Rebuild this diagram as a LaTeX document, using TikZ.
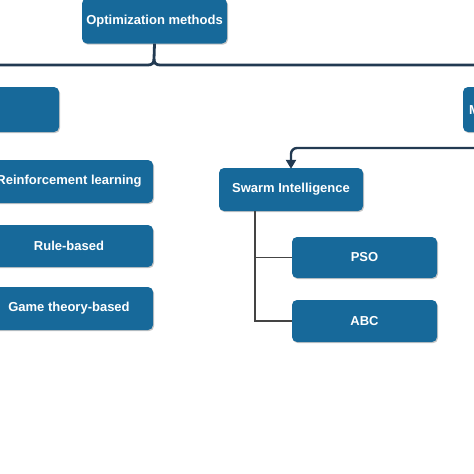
\documentclass[tikz,border=0pt]{standalone}
\usepackage{fontspec}
\setmainfont{Liberation Sans}
\usetikzlibrary{shadows,arrows.meta}
\definecolor{boxblue}{HTML}{17699A}
\definecolor{navy}{HTML}{223A52}
\definecolor{treegray}{HTML}{444444}
\begin{document}
\begin{tikzpicture}[x=1pt,y=-1pt,
  box/.style={rectangle, rounded corners=5pt, fill=boxblue, text=white,
    font=\fontsize{13}{15}\selectfont\bfseries, inner sep=0pt,
    drop shadow={shadow xshift=1pt, shadow yshift=-1.2pt, opacity=0.22, fill=black}},
  brace/.style={draw=navy, line width=2.8pt},
  tree/.style={draw=treegray, line width=1.1pt}]
\useasboundingbox (0,0) rectangle (474,474);
\clip (0,0) rectangle (474,474);
% boxes
\node[box, minimum width=145pt, minimum height=45pt] (opt) at (154.5,21) {Optimization methods};
\node[box, minimum width=160pt, minimum height=45pt] (lt) at (-21,109.5) {};
\node[box, minimum width=160pt, minimum height=45pt] (rt) at (543,109.5) {};
\node[anchor=west, text=white, font=\fontsize{13}{15}\selectfont\bfseries, inner sep=0pt] (rtlabel) at (469,110) {M};
\node[box, minimum width=168pt, minimum height=43pt] (rl) at (69,181.5) {Reinforcement learning};
\node[box, minimum width=168pt, minimum height=42pt] (rb) at (69,246) {Rule-based};
\node[box, minimum width=168pt, minimum height=43pt] (gt) at (69,308.5) {Game theory-based};
\node[box, minimum width=144pt, minimum height=43pt] (swarm) at (291,189.5) {Swarm Intelligence};
\node[box, minimum width=145pt, minimum height=41pt] (pso) at (364.5,257.5) {PSO};
\node[box, minimum width=145pt, minimum height=42pt] (abc) at (364.5,321) {ABC};
% brace
\coordinate (bl) at (-5,65);
\coordinate (br) at (480,65);
\draw[brace] (bl) -- (148,65) .. controls (152,65) and (154,63) .. (154,59) -- (opt.south);
\draw[brace] (br) -- (160,65) .. controls (156,65) and (154,63) .. (154,59);
% arrow to swarm
\coordinate (ain) at (480,148);
\draw[navy, line width=2.4pt, rounded corners=6pt, -{Triangle[length=9pt,width=10pt]}] (ain) -| ([yshift=-1pt]swarm.north);
% tree
\coordinate (tv) at (255,211);
\draw[tree] (swarm.south -| tv) |- (abc.west);
\draw[tree] (255,257.5) -- (pso.west);
\end{tikzpicture}
\end{document}
